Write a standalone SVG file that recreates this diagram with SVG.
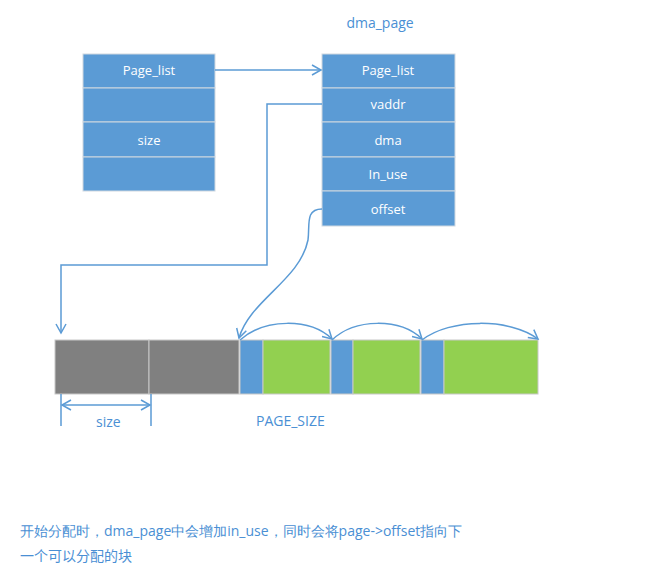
<svg xmlns="http://www.w3.org/2000/svg" width="661" height="576" viewBox="0 0 661 576">
<style>
.cell{fill:#5b9bd5;stroke:#d0d8e0;stroke-width:1}
.t{font-family:"Open Sans","Liberation Sans",sans-serif;font-size:13px;fill:#fff;text-anchor:middle}
.lbl{font-family:"Open Sans","Liberation Sans",sans-serif;font-size:14px;fill:#4a8fd4}
.ln{fill:none;stroke:#5b9bd5;stroke-width:1.5}
.g{fill:#808080;stroke:#c8c8c8}
.gr{fill:#92d050;stroke:#c8c8c8}
.b{fill:#5b9bd5;stroke:#c8c8c8}
</style>
<defs>
<marker id="a" markerWidth="12" markerHeight="12" refX="10" refY="6" orient="auto" markerUnits="userSpaceOnUse"><path d="M1,1 L10,6 L1,11" fill="none" stroke="#5b9bd5" stroke-width="1.5"/></marker>
<marker id="s" markerWidth="12" markerHeight="12" refX="2" refY="6" orient="auto" markerUnits="userSpaceOnUse"><path d="M11,1 L2,6 L11,11" fill="none" stroke="#5b9bd5" stroke-width="1.5"/></marker>
</defs>
<g id="left">
<rect class="cell" x="83" y="54" width="132" height="34"/><text class="t" x="149" y="75">Page_list</text>
<rect class="cell" x="83" y="88" width="132" height="34"/>
<rect class="cell" x="83" y="122" width="132" height="35"/><text class="t" x="149" y="145">size</text>
<rect class="cell" x="83" y="157" width="132" height="34"/>
</g>
<g id="dma_page">
<text class="lbl" x="380" y="28" text-anchor="middle">dma_page</text>
<rect class="cell" x="322" y="54" width="133" height="34"/><text class="t" x="388" y="75">Page_list</text>
<rect class="cell" x="322" y="88" width="133" height="34"/><text class="t" x="388" y="109">vaddr</text>
<rect class="cell" x="322" y="122" width="133" height="35"/><text class="t" x="388" y="145">dma</text>
<rect class="cell" x="322" y="157" width="133" height="34"/><text class="t" x="388" y="179">In_use</text>
<rect class="cell" x="322" y="191" width="133" height="35"/><text class="t" x="388" y="214">offset</text>
</g>
<g id="buffer">
<rect class="g" x="55" y="340" width="94" height="54"/>
<rect class="g" x="149" y="340" width="90" height="54"/>
<rect class="b" x="240" y="340" width="23" height="54"/>
<rect class="gr" x="263" y="340" width="67" height="54"/>
<rect class="b" x="331" y="340" width="22" height="54"/>
<rect class="gr" x="353" y="340" width="67" height="54"/>
<rect class="b" x="421" y="340" width="23" height="54"/>
<rect class="gr" x="444" y="340" width="94" height="54"/>
<text class="lbl" x="256" y="426">PAGE_SIZE</text>
<text class="lbl" x="96" y="427">size</text>
</g>
<g id="connectors">
<path class="ln" d="M215,70 H321" marker-end="url(#a)"/>
<path class="ln" d="M322,104 H267 V265 H61 V333" marker-end="url(#a)"/>
<path class="ln" d="M322,209 C305,209 310,225 308,240 C300,280 250,300 239,338" marker-end="url(#a)"/>
<path class="ln" d="M240,340 C265,318 310,318 332,339" marker-end="url(#a)"/>
<path class="ln" d="M332,340 C355,318 400,318 422,339" marker-end="url(#a)"/>
<path class="ln" d="M422,340 C450,318 510,318 538,339" marker-end="url(#a)"/>
<path class="ln" d="M61,394 V426 M151,394 V426"/>
<path class="ln" d="M62,405 H150" marker-start="url(#s)" marker-end="url(#a)"/>
</g>
<text class="lbl" font-family="'Open Sans','Noto Sans CJK SC',sans-serif" x="20" y="536">开始分配时，dma_page中会增加in_use，同时会将page-&gt;offset指向下</text>
<text class="lbl" x="20" y="561" style="font-family:'Noto Sans CJK SC',sans-serif">一个可以分配的块</text>
</svg>
